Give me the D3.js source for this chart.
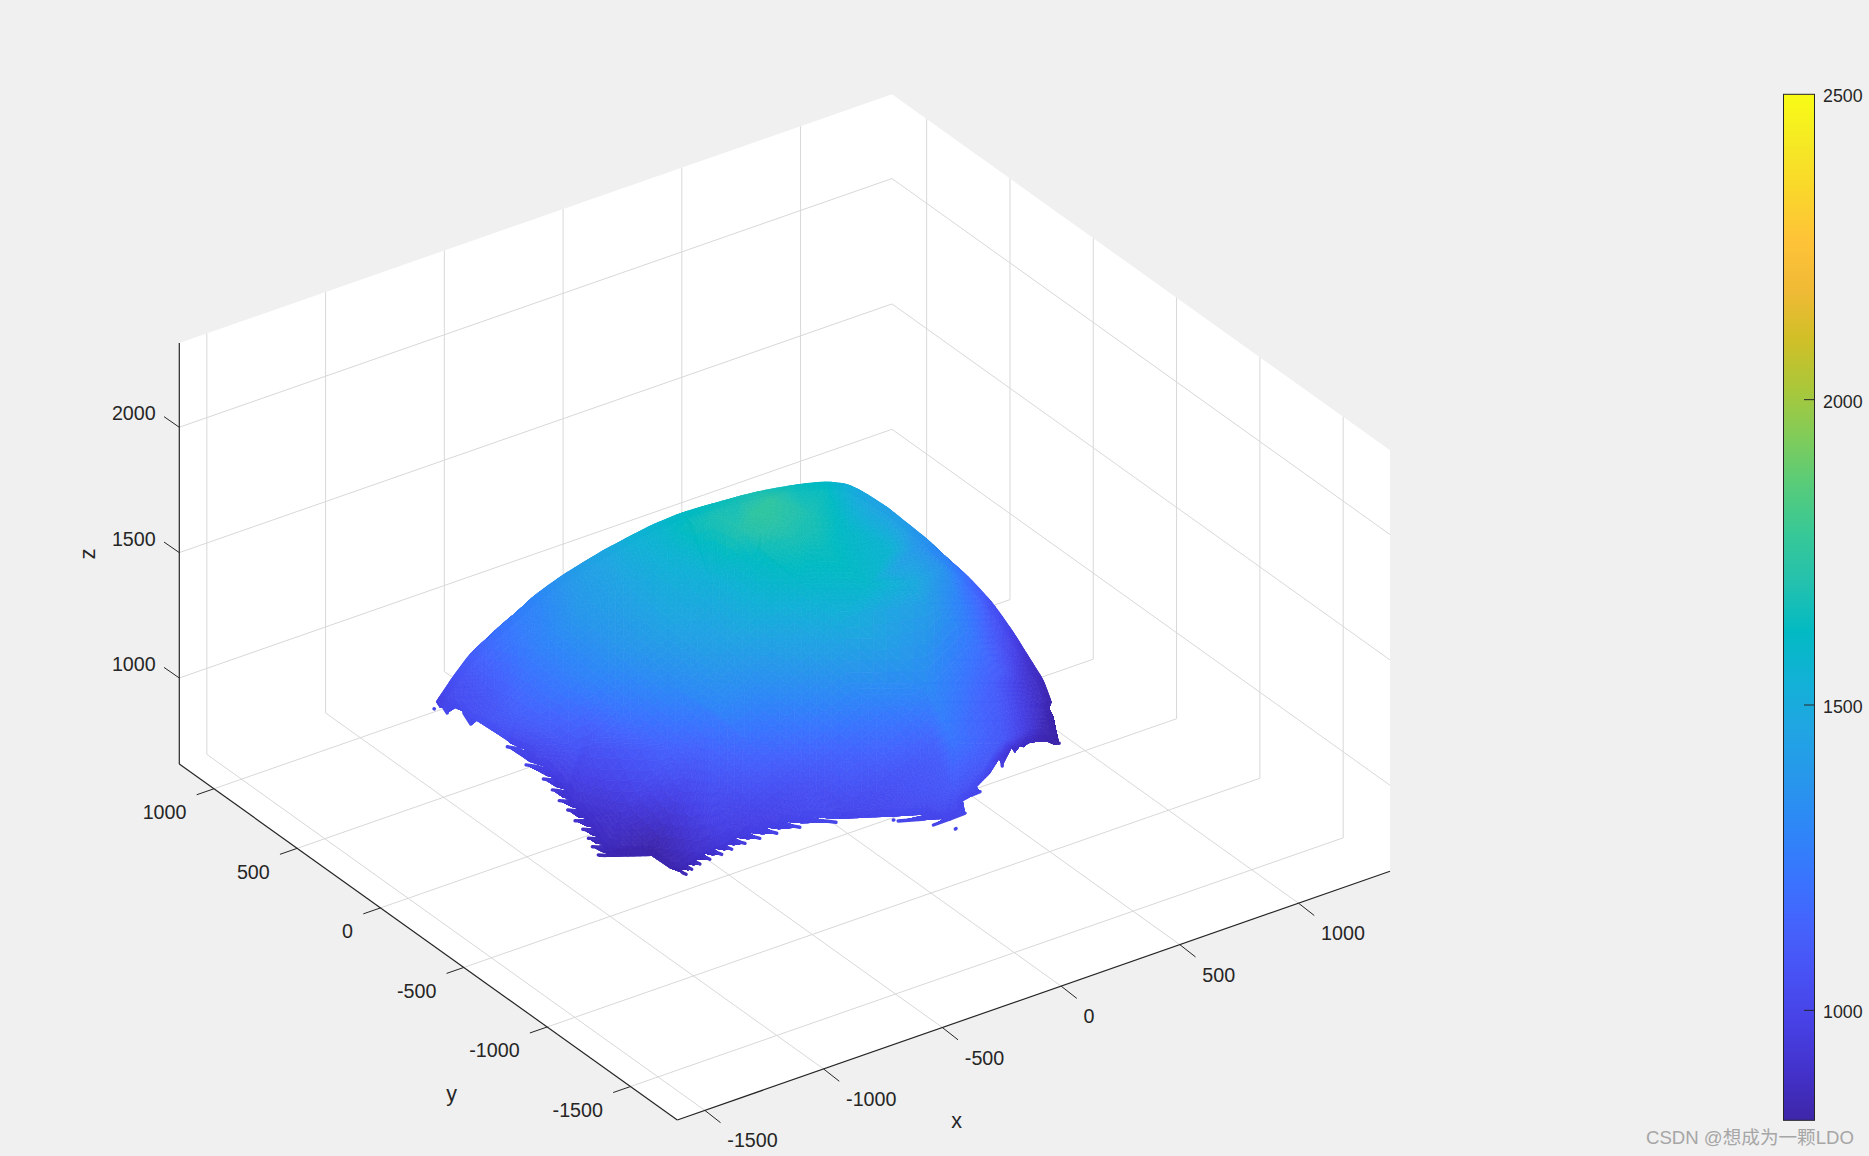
<!DOCTYPE html>
<html><head><meta charset="utf-8"><style>html,body{margin:0;background:#f0f0f0}svg{display:block}text{font-family:"Liberation Sans",Arial,sans-serif;fill:#262626}</style>
<script src="https://d3js.org/d3.v7.min.js"></script></head><body><div id="c"></div>
<script>
const xTicks=[-1500,-1000,-500,0,500,1000], yTicks=[-1500,-1000,-500,0,500,1000], zTicks=[1000,1500,2000], cTicks=[1000,1500,2000,2500];
const xDom=[-1616,1385], yDom=[-1781,1208], zDom=[657,2336], cDom=[820,2500];
const parula=[[.2422,.1504,.6603],[.2647,.1978,.7952],[.2783,.2559,.8991],[.2810,.3228,.9579],[.2699,.3892,.9906],[.2206,.4603,.9973],[.1786,.5289,.9682],[.1540,.5902,.9218],[.1248,.6459,.8883],[.0689,.6948,.8394],[.0067,.7312,.7660],[.1408,.7584,.6842],[.2161,.7843,.5923],[.3406,.8008,.4789],[.5044,.7993,.3480],[.6720,.7793,.2227],[.8203,.7498,.1535],[.9393,.7288,.2100],[.9970,.7659,.2199],[.9786,.8386,.1676],[.9597,.9135,.1423],[.9769,.9839,.0805]];
// workspace outline: the first arcCount points are the smooth upper silhouette
const arcCount=30;
const edgeX=[-964,-890,-818,-768,-699,-657,-579,-501,-433,-370,-315,-232,-146,-64,24,92,250,383,514,590,637,660,694,755,839,925,947,968,960,927,885,868,828,789,765,748,697,647,597,588,532,530,404,413,301,180,170,85,42,-3,-74,-23,-158,-61,-165,-330,-406,-339,-429,-471,-451,-509,-540,-530,-566,-597,-588,-608,-639,-630,-660,-679,-681,-688,-710,-710,-721,-738,-743,-748,-766,-770,-773,-789,-794,-789,-806,-810,-822,-820,-974,-982,-942,-959,-986,-935,-963,-974,-932,-951,-964,-921,-941,-962,-914,-939,-950,-913,-927,-957,-916,-934,-944,-904,-921,-946,-907,-923,-969,-920,-946,-970,-927,-947,-975,-993,-1014,-986,-984,-1016,-999,-1007];
const edgeY=[597,604,601,572,571,550,552,497,449,419,358,336,289,254,200,158,183,181,239,248,173,67,15,-18,-29,-46,-144,-214,-306,-403,-449,-498,-571,-645,-654,-638,-641,-662,-703,-696,-746,-728,-852,-820,-926,-1018,-1052,-1071,-1145,-1119,-1120,-1105,-1029,-1063,-1007,-913,-841,-913,-838,-795,-856,-812,-773,-830,-793,-758,-811,-763,-725,-782,-757,-732,-775,-737,-705,-756,-714,-685,-732,-692,-672,-711,-678,-658,-696,-666,-643,-685,-605,-493,-402,-403,-417,-394,-373,-394,-364,-332,-342,-323,-284,-306,-275,-235,-245,-226,-174,-194,-165,-133,-150,-124,-73,-102,-64,-22,-47,-13,49,-5,58,160,95,170,157,311,310,409,453,455,493,511];
const edgeZ=[980,1050,1120,1180,1220,1260,1300,1380,1440,1480,1540,1570,1610,1630,1660,1680,1640,1610,1530,1470,1430,1400,1360,1280,1180,1060,980,900,860,830,840,835,830,825,830,840,860,880,900,905,920,930,960,970,1000,1030,1030,1030,1030,1010,1010,1010,1010,1020,1020,1020,1020,1010,1000,1000,1000,990,990,990,980,980,980,960,960,960,950,950,950,930,930,930,910,910,910,890,890,890,870,870,870,850,850,850,840,835,840,850,850,850,870,870,870,880,880,880,890,890,890,900,900,900,910,910,910,930,930,930,940,940,940,960,960,960,990,990,990,1010,1010,1010,1040,1050,1040,1040,1030,1020,1020,1010];
// interior samples of the surface
const surfX=[275,-283,-110,80,349,-442,-259,-66,124,340,-621,-457,-244,-2,-760,-616,-413,-171,-765,-572,-340,-87,-711,-499,-256,17,-841,-648,-425,-162,120,-584,-331,-79,-520,-274,-882,21,-42,94,305,-208,147,40,4,-104,-202,-147,-79,-138,-109,564,739,826,612,759,380,364,605,603,801,547,345,162,645,658,761,645,380,244,109,41,-43,-824,-776,-623,-503,-795,-920,-900,-956,-943,-899];
const surfY=[-100,176,-113,-245,-263,217,-57,-318,-450,-411,230,-73,-305,-495,300,-31,-278,-468,24,-237,-441,-617,-167,-399,-589,-737,-83,-344,-562,-724,-857,-521,-697,-873,-698,-883,-410,-5,-94,-146,77,149,-65,-217,-167,-122,140,98,-45,-51,-130,-449,-318,-315,-302,-194,-435,-253,-210,-57,-411,-592,-683,-745,-513,-597,-588,-675,-891,-989,-976,-1075,-1037,-308,-438,-424,-450,-69,156,382,505,-75,-415];
const surfZ=[1600,1560,1640,1640,1560,1460,1530,1590,1590,1500,1380,1470,1510,1520,1260,1370,1420,1430,1260,1320,1340,1340,1200,1240,1250,1230,1070,1130,1160,1150,1120,1060,1060,1060,990,1010,840,1745,1740,1680,1640,1640,1680,1640,1680,1710,1650,1680,1745,1700,1660,1230,1110,1000,1280,1180,1420,1470,1370,1390,950,1120,1230,1320,1090,990,860,940,1090,1090,1220,1090,1060,920,830,1040,1280,1060,1130,1080,1040,980,860];
// the stray point rows that stick out along the lower rim
const toothX1=[-1017,-18,-158,72,190,404,-993,-1006,-148,-64,-329,789,-451,-530,-588,-630,-681,-710,-743,-770,-794,-810,-970,-969,-946,-944,-957,-950,-962,-964,-974,-986,-982];
const toothY1=[533,-1172,-999,-1102,-1024,-852,346,469,-1014,-1106,-899,-645,-856,-830,-811,-782,-775,-756,-732,-711,-696,-685,160,49,-22,-73,-133,-174,-235,-284,-332,-373,-403];
const toothX2=[-1017,-14,-156,7,154,434,-969,-996,-64,7,-367,775,-470,-543,-600,-643,-686,-717,-747,-773,-797,-814,-943,-941,-927,-924,-938,-932,-941,-943,-956,-961,-964];
const toothY2=[531,-1171,-1000,-1105,-1027,-806,422,503,-1056,-1105,-857,-633,-829,-806,-789,-758,-758,-735,-714,-696,-682,-669,123,15,-43,-96,-151,-193,-251,-305,-347,-394,-420];
const toothZ=[1000,1000,1000,1000,1010,960,1020,1010,1000,1000,1000,825,1000,990,980,960,950,930,910,890,870,850,1010,990,960,940,930,910,900,890,880,870,850];

const F=[677.3,1120],R=[1390,871.3],L=[179.3,764],H=421;
const sx=d3.scaleLinear().domain(xDom).range([0,1]), sy=d3.scaleLinear().domain(yDom).range([0,1]), sz=d3.scaleLinear().domain(zDom).range([0,1]);
const P=(x,y,z)=>{const u=sx(x),v=sy(y),w=sz(z);return [F[0]+u*(R[0]-F[0])+v*(L[0]-F[0]),F[1]+u*(R[1]-F[1])+v*(L[1]-F[1])-w*H];};
const svg=d3.select("#c").append("svg").attr("width",1869).attr("height",1156);
const stops=parula.map(c=>d3.rgb(c[0]*255,c[1]*255,c[2]*255));
const col=d3.scaleLinear().domain(stops.map((_,i)=>cDom[0]+(cDom[1]-cDom[0])*i/(stops.length-1))).range(stops).clamp(true);
const ln=(a,b,c,w)=>svg.append("line").attr("x1",a[0]).attr("y1",a[1]).attr("x2",b[0]).attr("y2",b[1]).attr("stroke",c).attr("stroke-width",w);
const [x0,x1]=xDom,[y0,y1]=yDom,[z0,z1]=zDom;
svg.append("polygon").attr("fill","#fff").attr("points",[P(x0,y1,z0),P(x0,y1,z1),P(x1,y1,z1),P(x1,y0,z1),P(x1,y0,z0),P(x0,y0,z0)].join(" "));
const G="#d8d8d8";
xTicks.forEach(t=>{ln(P(t,y0,z0),P(t,y1,z0),G,1);ln(P(t,y1,z0),P(t,y1,z1),G,1);});
yTicks.forEach(t=>{ln(P(x0,t,z0),P(x1,t,z0),G,1);ln(P(x1,t,z0),P(x1,t,z1),G,1);});
zTicks.forEach(t=>{ln(P(x0,y1,t),P(x1,y1,t),G,1);ln(P(x1,y1,t),P(x1,y0,t),G,1);});
const A="#262626";
ln(P(x0,y1,z0),P(x0,y1,z1),A,1.2);ln(P(x0,y1,z0),P(x0,y0,z0),A,1.2);ln(P(x0,y0,z0),P(x1,y0,z0),A,1.2);
const txt=(s,x,y,a,fs)=>svg.append("text").attr("x",x).attr("y",y).attr("text-anchor",a).attr("dominant-baseline","central").attr("font-size",fs).text(s);
xTicks.forEach(t=>{const p=P(t,y0,z0);ln(p,[p[0]+15.7,p[1]+12.3],A,1);txt(t,p[0]+22.5,p[1]+30,"start",19.7);});
yTicks.forEach(t=>{const p=P(x0,t,z0);ln(p,[p[0]-17.3,p[1]+6],A,1);txt(t,p[0]-27.5,p[1]+23.5,"end",19.7);});
zTicks.forEach(t=>{const p=P(x0,y1,t);ln(p,[p[0]-15.3,p[1]-10.6],A,1);txt(t,155.7,p[1]-14,"end",19.7);});
txt("x",956.7,1121,"middle",21.5);txt("y",451.7,1094,"middle",21.5);
svg.append("text").attr("transform","translate(87,554) rotate(-90)").attr("text-anchor","middle").attr("dominant-baseline","central").attr("font-size",22).text("z");
// surface
const allZ=[...edgeZ,...surfZ];
const edgeP=edgeX.map((x,i)=>P(x,edgeY[i],edgeZ[i]));
const pts=[...edgeP,...surfX.map((x,i)=>P(x,surfY[i],surfZ[i]))];
const del=d3.Delaunay.from(pts);
const d=d3.line().curve(d3.curveCatmullRom)(edgeP.slice(0,arcCount))+"L"+edgeP.slice(arcCount).join("L")+"Z";
svg.append("clipPath").attr("id","surfClip").append("path").attr("d",d);
const sg=svg.append("g").attr("clip-path","url(#surfClip)");
edgeP.forEach((p,i)=>{const j=(i+1)%edgeP.length,k=col((edgeZ[i]+edgeZ[j])/2);sg.append("line").attr("x1",p[0]).attr("y1",p[1]).attr("x2",edgeP[j][0]).attr("y2",edgeP[j][1]).attr("stroke",k).attr("stroke-width",14).attr("stroke-linecap","round");});
const N=6;
for(let i=0;i<del.triangles.length;i+=3){const [a,b,c]=[del.triangles[i],del.triangles[i+1],del.triangles[i+2]];
 const V=(r,s)=>{const t=N-r-s;return [(pts[a][0]*r+pts[b][0]*s+pts[c][0]*t)/N,(pts[a][1]*r+pts[b][1]*s+pts[c][1]*t)/N];};
 const Z=(r,s)=>{const t=N-r-s;return (allZ[a]*r+allZ[b]*s+allZ[c]*t)/N;};
 for(let r=0;r<N;r++)for(let s=0;s<N-r;s++){
  const k=col(Z(r+1/3,s+1/3));
  sg.append("polygon").attr("points",[V(r,s),V(r+1,s),V(r,s+1)].join(" ")).attr("fill",k).attr("stroke",k).attr("stroke-width",.7);
  if(r+s<N-1){const k2=col(Z(r+2/3,s+2/3));sg.append("polygon").attr("points",[V(r+1,s),V(r+1,s+1),V(r,s+1)].join(" ")).attr("fill",k2).attr("stroke",k2).attr("stroke-width",.7);}
 }}
toothX1.forEach((x,i)=>{const a=P(x,toothY1[i],toothZ[i]),b=P(toothX2[i],toothY2[i],toothZ[i]);svg.append("line").attr("x1",a[0]).attr("y1",a[1]).attr("x2",b[0]).attr("y2",b[1]).attr("stroke",col(toothZ[i])).attr("stroke-width",3.4).attr("stroke-linecap","round");});
// colorbar
const cs=d3.scaleLinear().domain(cDom).range([1120.3,94.3]);
const gr=svg.append("defs").append("linearGradient").attr("id","cb").attr("x1",0).attr("y1",1).attr("x2",0).attr("y2",0);
stops.forEach((c,i)=>gr.append("stop").attr("offset",i/(stops.length-1)).attr("stop-color",c));
svg.append("rect").attr("x",1783.5).attr("y",94.3).attr("width",31).attr("height",1026).attr("fill","url(#cb)").attr("stroke",A).attr("stroke-width",1);
cTicks.forEach(t=>{const y=cs(t);if(t<2500)ln([1814.5,y],[1804,y],A,1);txt(t,1823,y+2,"start",17.8);});
svg.append("text").attr("x",1646).attr("y",1137).attr("dominant-baseline","central").attr("font-size",18.6).style("font-family",'"Liberation Sans","Noto Sans CJK SC",sans-serif').style("fill","#a6a6a6").text("CSDN @想成为一颗LDO");
</script></body></html>
